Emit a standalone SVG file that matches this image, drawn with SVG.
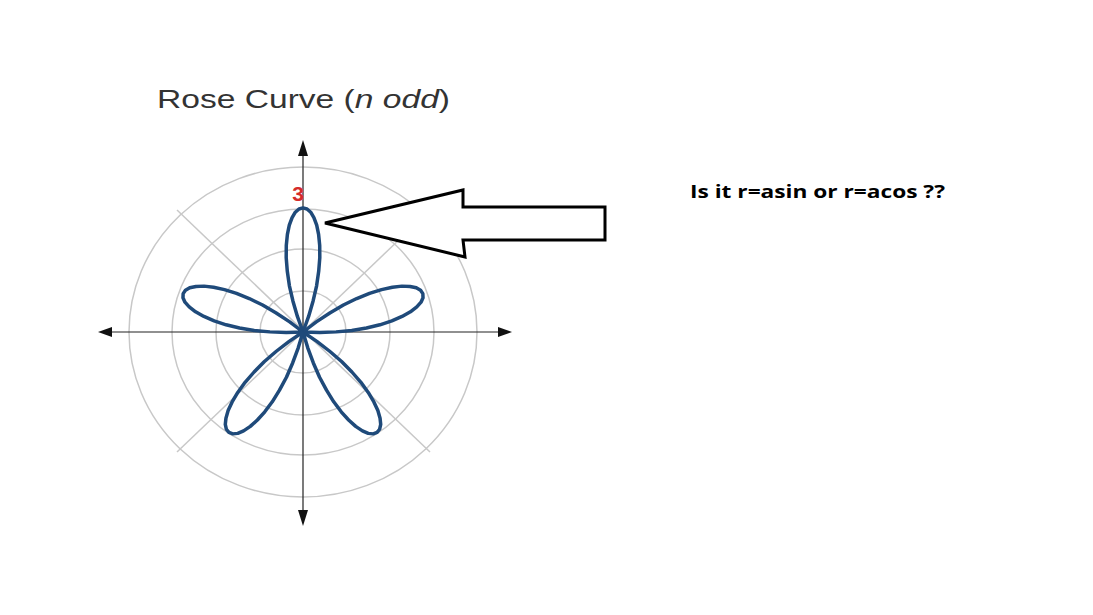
<svg xmlns="http://www.w3.org/2000/svg" width="1093" height="615" viewBox="0 0 1093 615">
<style>
.grid{fill:none;stroke:#c8c8c8;stroke-width:1.5}
.axis{stroke:#222;stroke-width:1.2}
.petal{fill:none;stroke:#1f4a7a;stroke-width:3.5;stroke-linejoin:round}
</style>
<defs>
<polyline id="petal" class="petal" points="0,0 15.8,5.6 31.5,10.1 46.9,13.6 61.6,15.7 75.4,16.8 88,16.7 99.1,15.6 108.5,13.7 116.1,10.9 121.6,7.7 124.9,4 126,0 124.9,-4 121.6,-7.7 116.1,-10.9 108.5,-13.7 99.1,-15.6 88,-16.7 75.4,-16.8 61.6,-15.7 46.9,-13.6 31.5,-10.1 15.8,-5.6 0,0"/>
</defs>
<rect width="1093" height="615" fill="#fff"/>
<text x="157" y="108" textLength="293" lengthAdjust="spacingAndGlyphs" font-family="Liberation Sans, Arial, sans-serif" font-size="25" fill="#333">Rose Curve (<tspan font-style="italic">n odd</tspan>)</text>
<g id="grid" transform="translate(303,332)">
<ellipse class="grid" rx="43" ry="41"/>
<ellipse class="grid" rx="87" ry="83"/>
<ellipse class="grid" rx="131" ry="123"/>
<ellipse class="grid" rx="174" ry="165"/>
<line class="grid" x1="-126" y1="-122" x2="127" y2="120"/>
<line class="grid" x1="122" y1="-117" x2="-126" y2="120"/>
</g>
<g id="axes">
<line class="axis" x1="108" y1="332" x2="502" y2="332"/>
<line class="axis" x1="303" y1="150" x2="303" y2="516"/>
<polygon points="98,332 112,327 112,337" fill="#111"/>
<polygon points="512,332 498,327 498,337" fill="#111"/>
<polygon points="303,140 298,156 308,156" fill="#111"/>
<polygon points="303,526 298,510 308,510" fill="#111"/>
</g>
<g id="rose" transform="translate(303,332) scale(1,0.985)">
<use href="#petal" transform="rotate(-90)"/>
<use href="#petal" transform="rotate(-18)"/>
<use href="#petal" transform="rotate(-162)"/>
<use href="#petal" transform="rotate(54)"/>
<use href="#petal" transform="rotate(126)"/>
</g>
<text x="298" y="201" text-anchor="middle" font-family="Liberation Sans, Arial, sans-serif" font-weight="bold" font-size="21" fill="#d42b2b">3</text>
<g id="arrow">
<polygon points="325,223 463,190 463,207 605,207 605,240 463,240 465,257" fill="#fff" stroke="#000" stroke-width="3" stroke-linejoin="miter"/>
</g>
<text x="690" y="198" textLength="255" lengthAdjust="spacingAndGlyphs" font-family="Open Sans, sans-serif" font-weight="bold" font-size="18" fill="#000">Is it r=asin or r=acos ??</text>
</svg>
